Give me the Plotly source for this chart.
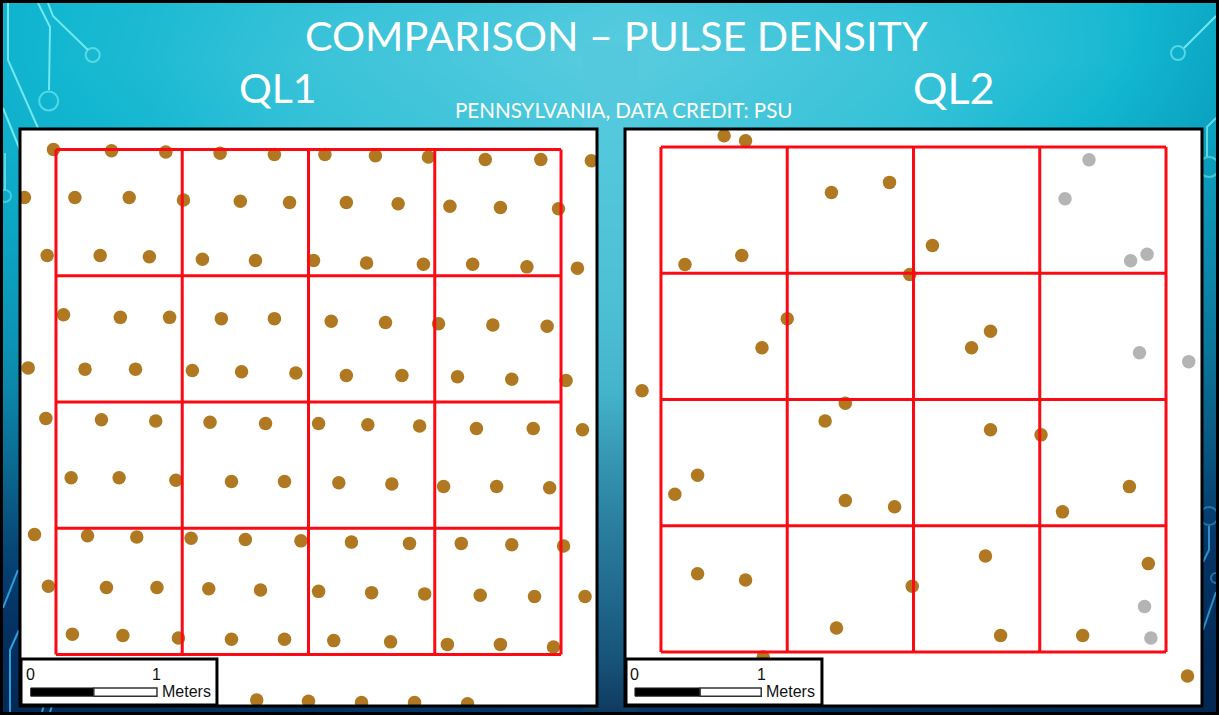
import plotly.graph_objects as go

# pulse positions in metres, origin at the lower left corner of each red grid
ql1_x = [-0.02, 0.44, 0.87, 1.30, 1.73, 2.13, 2.53, 2.95, 3.40, 3.84, 4.24,
         -0.25, 0.15, 0.58, 1.01, 1.46, 1.85, 2.30, 2.71, 3.12, 3.52, 3.98,
         -0.07, 0.35, 0.74, 1.16, 1.58, 2.04, 2.46, 2.91, 3.30, 3.73, 4.13,
         0.06, 0.51, 0.90, 1.31, 1.73, 2.18, 2.61, 3.03, 3.46, 3.89,
         -0.22, 0.23, 0.63, 1.08, 1.47, 1.90, 2.30, 2.74, 3.18, 3.61, 4.04,
         -0.08, 0.36, 0.79, 1.22, 1.66, 2.08, 2.47, 2.88, 3.33, 3.78, 4.17,
         0.12, 0.50, 0.95, 1.39, 1.81, 2.24, 2.66, 3.07, 3.49, 3.91,
         -0.17, 0.25, 0.64, 1.07, 1.50, 1.94, 2.34, 2.80, 3.21, 3.61, 4.02,
         -0.06, 0.40, 0.80, 1.21, 1.62, 2.08, 2.50, 2.92, 3.36, 3.79, 4.19,
         0.13, 0.53, 0.97, 1.39, 1.81, 2.20, 2.65, 3.10, 3.52, 3.94,
         1.59, 2.00, 2.42, 2.84, 3.26]
ql1_y = [4.00, 3.99, 3.98, 3.97, 3.96, 3.96, 3.95, 3.94, 3.92, 3.92, 3.91,
         3.62, 3.62, 3.62, 3.60, 3.59, 3.58, 3.58, 3.57, 3.55, 3.54, 3.53,
         3.16, 3.16, 3.15, 3.13, 3.12, 3.12, 3.10, 3.09, 3.09, 3.07, 3.06,
         2.69, 2.67, 2.67, 2.66, 2.66, 2.64, 2.63, 2.62, 2.61, 2.60,
         2.27, 2.26, 2.26, 2.25, 2.24, 2.23, 2.21, 2.21, 2.20, 2.18, 2.17,
         1.87, 1.86, 1.85, 1.84, 1.83, 1.83, 1.82, 1.81, 1.79, 1.79, 1.78,
         1.40, 1.40, 1.38, 1.37, 1.37, 1.36, 1.35, 1.33, 1.33, 1.32,
         0.95, 0.94, 0.93, 0.92, 0.91, 0.90, 0.89, 0.88, 0.88, 0.87, 0.86,
         0.54, 0.53, 0.53, 0.52, 0.51, 0.50, 0.49, 0.48, 0.47, 0.46, 0.46,
         0.16, 0.15, 0.13, 0.12, 0.12, 0.11, 0.10, 0.08, 0.08, 0.06,
         -0.36, -0.37, -0.38, -0.38, -0.39]

ql2_x = [0.50, 0.67, 1.35, 1.81, 2.15, 0.19, 0.64, 1.97, 1.00, 0.80, 2.61, 2.46,
         -0.15, 1.46, 1.30, 2.61, 3.01, 0.29, 0.11, 1.46, 1.85, 3.71, 3.18,
         0.29, 0.67, 2.57, 1.99, 3.86, 1.39, 2.69, 3.34, 4.17, 0.81]
ql2_y = [4.09, 4.05, 3.64, 3.72, 3.22, 3.07, 3.14, 2.99, 2.64, 2.41, 2.54, 2.41,
         2.07, 1.97, 1.83, 1.76, 1.72, 1.40, 1.25, 1.20, 1.15, 1.31, 1.11,
         0.62, 0.57, 0.76, 0.52, 0.70, 0.19, 0.13, 0.13, -0.19, -0.04]
ql2_grey_x = [3.39, 3.20, 3.85, 3.72, 3.79, 4.18, 3.83, 3.88]
ql2_grey_y = [3.90, 3.59, 3.15, 3.10, 2.37, 2.30, 0.36, 0.11]

grid_edges = [0, 1, 2, 3, 4]

title_text = 'COMPARISON – PULSE DENSITY'
subtitle_text = 'PENNSYLVANIA, DATA CREDIT: PSU'
panel_names = ['QL1', 'QL2']

BROWN = '#b07820'
GREY = '#b4b4b4'
RED = '#fb0a14'
W, H = 1219, 715

# slide background, brightness sampled by eye on a coarse grid
bg_cols = [0, 150, 320, 620, 900, 1100, 1219]
bg_rows = [0, 60, 130, 250, 350, 450, 550, 650, 715]
bg_z = [
    [0.68, 0.74, 0.84, 0.95, 0.84, 0.74, 0.62],
    [0.68, 0.75, 0.87, 1.00, 0.87, 0.74, 0.60],
    [0.66, 0.72, 0.84, 0.95, 0.84, 0.68, 0.57],
    [0.58, 0.60, 0.65, 0.70, 0.62, 0.52, 0.47],
    [0.50, 0.52, 0.56, 0.60, 0.52, 0.44, 0.38],
    [0.36, 0.40, 0.44, 0.48, 0.40, 0.32, 0.26],
    [0.20, 0.26, 0.30, 0.36, 0.26, 0.18, 0.12],
    [0.08, 0.14, 0.18, 0.24, 0.14, 0.08, 0.05],
    [0.04, 0.08, 0.10, 0.14, 0.08, 0.04, 0.03],
]
bg_scale = [[0, '#02234c'], [0.15, '#04386a'], [0.3, '#0a5f88'], [0.45, '#0c86aa'],
            [0.6, '#0ca6c4'], [0.7, '#12b6d0'], [0.8, '#2bbfd6'], [1, '#5accdf']]

# the strip between the panels is paler than the sides, so it gets its own ramp
strip_cols = [597, 625]
strip_rows = [130, 300, 390, 450, 520, 600, 660, 712]
strip_z = [[1.0, 1.0], [0.9, 0.9], [0.75, 0.75], [0.6, 0.6], [0.45, 0.45], [0.3, 0.3], [0.17, 0.17], [0.0, 0.0]]
strip_scale = [[0, '#0f3a60'], [0.25, '#1c5f85'], [0.5, '#2f88a8'], [0.75, '#44b4cc'], [1, '#54c8dc']]

# circuit decoration on the slide (x list, y list, colour)
circuit_lines = [
    ([38, 50, 49], [3, 27, 90], '#6fe8f0'),
    ([48, 53, 88], [3, 16, 50], '#6fe8f0'),
    ([8, 8, 38], [3, 60, 128], '#6fe8f0'),
    ([3, 20], [108, 150], '#6fe8f0'),
    ([5, 5], [153, 190], '#5fd8e6'),
    ([1216, 1184], [16, 48], '#6fe8f0'),
    ([1216, 1207, 1207], [118, 127, 157], '#5fd8e6'),
    ([3, 18], [608, 570], '#2f9fdc'),
    ([19, 10, 10], [630, 650, 712], '#2f9fdc'),
    ([42, 44], [712, 705], '#2f9fdc'),
    ([50, 52], [712, 706], '#2f9fdc'),
    ([1209, 1209, 1203], [526, 550, 562], '#2f8fc8'),
    ([1216, 1203], [592, 630], '#2f8fc8'),
]
circuit_rings_x = [48.7, 92.7, 5, 1178, 1209, 1209, 1216]
circuit_rings_y = [101, 55, 196, 53, 167, 516, 578]
circuit_rings_d = [19, 14, 12, 14, 20, 18, 10]
circuit_rings_c = ['#6fe8f0', '#6fe8f0', '#5fd8e6', '#6fe8f0', '#5fd8e6', '#2f8fc8', '#2f8fc8']


def px_x(v):
    return v / W


def px_y(v):
    return 1 - v / H


fig = go.Figure()

layout_axes = {
    'xaxis': dict(domain=[0, 1], range=[0, W], visible=False, fixedrange=True),
    'yaxis': dict(domain=[0, 1], range=[H, 0], visible=False, fixedrange=True),
}

fig.add_trace(go.Heatmap(x=bg_cols, y=bg_rows, z=bg_z, colorscale=bg_scale, zmin=0, zmax=1,
                         zsmooth='best', showscale=False, hoverinfo='skip'))
fig.add_trace(go.Heatmap(x=strip_cols, y=strip_rows, z=strip_z, colorscale=strip_scale, zmin=0, zmax=1,
                         zsmooth='best', showscale=False, hoverinfo='skip'))
for xs, ys, col in circuit_lines:
    fig.add_trace(go.Scatter(x=xs, y=ys, mode='lines', line=dict(color=col, width=2),
                             showlegend=False, hoverinfo='skip'))
fig.add_trace(go.Scatter(x=circuit_rings_x, y=circuit_rings_y, mode='markers', showlegend=False,
                         hoverinfo='skip',
                         marker=dict(symbol='circle-open', size=circuit_rings_d,
                                     color=circuit_rings_c, line=dict(width=2, color=circuit_rings_c))))

shapes = []
annotations = []


def add_panel(n, left, xr, yr, bar, box_top, series):
    xa, ya = 'x%d' % n, 'y%d' % n
    layout_axes['xaxis%d' % n] = dict(domain=[px_x(left), px_x(left + 575)], range=xr, showticklabels=False,
                                      ticks='', showgrid=False, zeroline=False, showline=False, fixedrange=True)
    layout_axes['yaxis%d' % n] = dict(domain=[px_y(705), px_y(130)], range=yr, showticklabels=False,
                                      ticks='', showgrid=False, zeroline=False, showline=False, fixedrange=True)
    for xs, ys, col in series:
        fig.add_trace(go.Scatter(x=xs, y=ys, mode='markers', xaxis=xa, yaxis=ya, showlegend=False,
                                 marker=dict(size=13.5, color=col), hoverinfo='x+y'))
    # red 1 m grid goes over the pulses
    for e in grid_edges:
        fig.add_trace(go.Scatter(x=[e, e], y=[grid_edges[0], grid_edges[-1]], mode='lines', xaxis=xa, yaxis=ya,
                                 line=dict(color=RED, width=3), showlegend=False, hoverinfo='skip'))
        fig.add_trace(go.Scatter(x=[grid_edges[0], grid_edges[-1]], y=[e, e], mode='lines', xaxis=xa, yaxis=ya,
                                 line=dict(color=RED, width=3), showlegend=False, hoverinfo='skip'))
    # panel border
    shapes.append(dict(type='rect', xref='paper', yref='paper', x0=px_x(left - 1), x1=px_x(left + 576),
                       y0=px_y(706), y1=px_y(129), line=dict(color='black', width=3)))
    # scale bar box
    shapes.append(dict(type='rect', xref=xa, yref=ya, x0=xr[0], x1=1.275, y0=yr[0], y1=box_top,
                       fillcolor='white', line=dict(color='black', width=3)))
    shapes.append(dict(type='rect', xref=xa, yref=ya, x0=bar[0], x1=bar[1], y0=bar[3], y1=bar[2],
                       fillcolor='black', line=dict(color='#222222', width=1)))
    shapes.append(dict(type='rect', xref=xa, yref=ya, x0=bar[1], x1=bar[0] + 1, y0=bar[3], y1=bar[2],
                       fillcolor='white', line=dict(color='#333333', width=1.5)))
    for label, x in [('0', bar[0]), ('1', bar[0] + 1)]:
        annotations.append(dict(text=label, x=x, y=bar[2] + 0.105, xref=xa, yref=ya, showarrow=False,
                                font=dict(family='Liberation Sans', size=16, color='#111111')))
    annotations.append(dict(text='Meters', x=bar[0] + 1.02, y=(bar[2] + bar[3]) / 2 + 0.005, xref=xa, yref=ya,
                            showarrow=False, xanchor='left',
                            font=dict(family='Liberation Sans', size=16, color='#111111')))


add_panel(2, 21, [-0.277, 4.277], [-0.40, 4.154], [-0.20, 0.30, -0.265, -0.33], -0.036,
          [(ql1_x, ql1_y, BROWN)])
add_panel(3, 626, [-0.277, 4.277], [-0.42, 4.135], [-0.206, 0.31, -0.285, -0.35], -0.055,
          [(ql2_x, ql2_y, BROWN), (ql2_grey_x, ql2_grey_y, GREY)])

# black frame round the slide
for x0, x1, y0, y1 in [(0, 3, 0, H), (1216, W, 0, H), (0, W, 0, 3), (0, W, 712, H)]:
    shapes.append(dict(type='rect', xref='x', yref='y', x0=x0, x1=x1, y0=y0, y1=y1,
                       fillcolor='black', line=dict(width=0)))

TITLE_FONT = 'Lato'
annotations.append(dict(text=title_text, x=616, y=35, xref='x', yref='y', showarrow=False,
                        font=dict(family=TITLE_FONT, size=41.3, color='white')))
annotations.append(dict(text=panel_names[0], x=278, y=87, xref='x', yref='y', showarrow=False,
                        font=dict(family=TITLE_FONT, size=41, color='white')))
annotations.append(dict(text=panel_names[1], x=953, y=87, xref='x', yref='y', showarrow=False,
                        font=dict(family=TITLE_FONT, size=43, color='white')))
annotations.append(dict(text=subtitle_text, x=624, y=110, xref='x', yref='y', showarrow=False,
                        font=dict(family=TITLE_FONT, size=20.6, color='white')))

fig.update_layout(width=W, height=H, margin=dict(l=0, r=0, t=0, b=0), autosize=False,
                  plot_bgcolor='white', paper_bgcolor='black', showlegend=False,
                  shapes=shapes, annotations=annotations, **layout_axes)

fig.write_html("out.html", config=dict(displayModeBar=False),
               post_script="document.body.style.margin='0';document.body.style.overflow='hidden';")
